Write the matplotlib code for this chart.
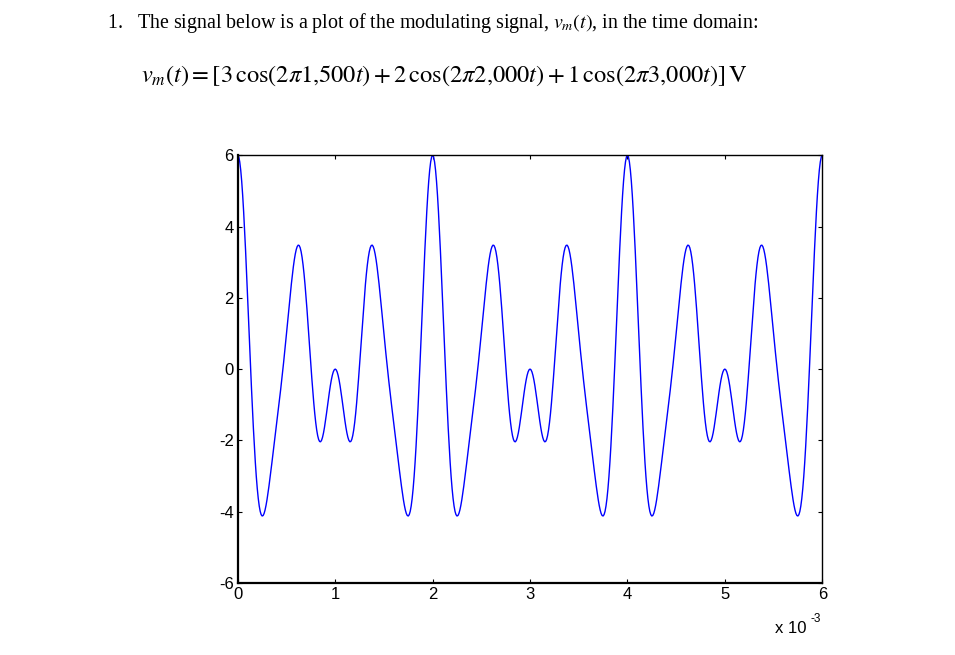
import numpy as np
import matplotlib.pyplot as plt

plt.rcParams['mathtext.fontset'] = 'stix'

# components
amplitudes = [3, 2, 1]          # V
frequencies = [1500, 2000, 3000]  # Hz
t_end = 6e-3
n_samples = 601

x_ticks = [0, 1, 2, 3, 4, 5, 6]
y_ticks = [-6, -4, -2, 0, 2, 4, 6]

t = np.linspace(0, t_end, n_samples)
vm = np.zeros_like(t)
for a, f in zip(amplitudes, frequencies):
    vm += a * np.cos(2 * np.pi * f * t)

fig = plt.figure(figsize=(9.55, 6.55), dpi=100)

fig.text(0.112, 0.965, '1.   The signal below is a plot of the modulating signal, $v_m(t)$, in the time domain:',
         fontsize=14.4, family='Liberation Serif', va='center')
fig.text(0.148, 0.885,
         r'$v_m(t) = [3\,\mathrm{cos}(2\pi 1{,}500t) + 2\,\mathrm{cos}(2\pi 2{,}000t) + 1\,\mathrm{cos}(2\pi 3{,}000t)]\,\mathrm{V}$',
         fontsize=17.6, va='center')

ax = fig.add_axes([0.249, 0.110, 0.612, 0.653])
ax.plot(t * 1e3, vm, color='#0000ff', linewidth=1.0)
ax.set_xlim(0, 6)
ax.set_ylim(-6, 6)
ax.set_xticks(x_ticks)
ax.set_yticks(y_ticks)
ax.set_xticklabels([str(v) for v in x_ticks])
ax.set_yticklabels([str(v) for v in y_ticks])
ax.tick_params(direction='in', length=3, width=0.8, top=True, right=True,
               labelsize=12, pad=3)
for lab in ax.get_xticklabels() + ax.get_yticklabels():
    lab.set_family('Liberation Sans')
ax.spines['left'].set_linewidth(1.6)
ax.spines['bottom'].set_linewidth(1.6)
ax.spines['top'].set_linewidth(1.0)
ax.spines['right'].set_linewidth(1.0)

fig.text(0.812, 0.040, 'x 10', fontsize=12, family='Liberation Sans', va='center')
fig.text(0.849, 0.055, '-3', fontsize=8.5, family='Liberation Sans', va='center')

fig.savefig('out.png', dpi=100)
